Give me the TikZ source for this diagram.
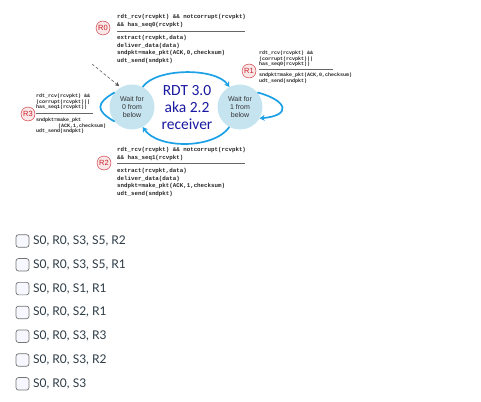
\documentclass[tikz,border=0pt]{standalone}
\usepackage{fontspec}
\usepackage{xcolor}
\usepackage{tikz}
\usetikzlibrary{arrows.meta}
\newfontfamily\codefont{Liberation Mono}
\newfontfamily\statefont{Liberation Sans}
\newfontfamily\bigfont{Carlito}
\newfontfamily\listfont{Lato}
\definecolor{stateblue}{RGB}{198,228,240}
\definecolor{flowblue}{RGB}{28,160,230}
\definecolor{titleblue}{RGB}{24,24,160}
\definecolor{tagred}{RGB}{200,30,40}
\definecolor{listgray}{RGB}{45,59,69}
\tikzset{
  state/.style={circle,fill=stateblue,minimum size=45pt,inner sep=0pt,align=center,
    text=black!80,font=\statefont\fontsize{7}{8}\selectfont},
  flow/.style={draw=flowblue,line width=1.7pt,-{Stealth[length=5pt,width=6pt]}},
  loopline/.style={draw=flowblue,line width=1.7pt},
  bigcode/.style={anchor=north west,inner sep=0pt,align=left,text=black!85,
    font=\codefont\bfseries\fontsize{5.8}{7.6}\selectfont},
  smallcode/.style={anchor=north west,inner sep=0pt,align=left,text=black!85,
    font=\codefont\bfseries\fontsize{5.0}{5.8}\selectfont},
  rule/.style={draw=black!60,line width=0.6pt},
  tag/.style={circle,draw=tagred,fill=tagred!10,text=tagred,inner sep=0pt,
    minimum size=14pt,font=\statefont\fontsize{7.5}{8}\selectfont},
  checkbox/.style={draw=black!55,fill=blue!3,rounded corners=2.5pt,line width=0.7pt,
    minimum width=13pt,minimum height=12.5pt,inner sep=0pt},
  answer/.style={anchor=west,inner sep=0pt,text=listgray,font=\listfont\fontsize{12}{14}\selectfont}
}
\begin{document}
\begin{tikzpicture}[x=1pt,y=-1pt]
\useasboundingbox (0,0) rectangle (481,401);

\node[state] (w0) at (132,107) {Wait for\\0 from\\below};
\node[state] (w1) at (240,107) {Wait for\\1 from\\below};
\node[align=center,text=titleblue,font=\bigfont\fontsize{15.5}{17}\selectfont] (rdt) at (187,108) {RDT 3.0\\aka 2.2\\receiver};

\draw[flow] (w0.62) to[out=55,in=125,looseness=0.7] (w1.118);
\draw[flow] (w1.-118) to[out=-125,in=-55,looseness=0.8] (w0.-62);
\draw[loopline] (w0.140) .. controls +(150:22) and +(210:22) .. (w0.220);
\draw[flow] (w1.40) .. controls +(15:32) and +(-5:32) .. (w1.-30);

\coordinate (init) at (92,64);
\draw[densely dashed,black!70,line width=0.5pt,-{Stealth[length=4pt,width=4pt]},shorten >=2pt] (init) -- (w0.120);

% top transition
\node[tag] (r0) at (103,28) {R0};
\node[bigcode] (g0) at (117,14) {rdt\_rcv(rcvpkt) \&\& notcorrupt(rcvpkt)\\\&\& has\_seq0(rcvpkt)};
\draw[rule] (117,31) -- (245,31);
\node[bigcode] (a0) at (117,35) {extract(rcvpkt,data)\\deliver\_data(data)\\sndpkt=make\_pkt(ACK,0,checksum)\\udt\_send(sndpkt)};

% bottom transition
\node[tag] (r2) at (104,163) {R2};
\node[bigcode] (g2) at (117,147) {rdt\_rcv(rcvpkt) \&\& notcorrupt(rcvpkt)\\\&\& has\_seq1(rcvpkt)};
\draw[rule] (117,163.5) -- (245,163.5);
\node[bigcode] (a2) at (117,168) {extract(rcvpkt,data)\\deliver\_data(data)\\sndpkt=make\_pkt(ACK,1,checksum)\\udt\_send(sndpkt)};

% right loop
\node[tag] (r1) at (249,71) {R1};
\node[smallcode] (g1) at (259,50.5) {rdt\_rcv(rcvpkt) \&\&\\(corrupt(rcvpkt)||\\has\_seq0(rcvpkt))};
\draw[rule] (259,69) -- (333,69);
\node[smallcode] (a1) at (259,72.5) {sndpkt=make\_pkt(ACK,0,checksum)\\udt\_send(sndpkt)};

% left loop
\node[tag] (r3) at (28,114) {R3};
\node[smallcode] (g3) at (36,93.5) {rdt\_rcv(rcvpkt) \&\&\\(corrupt(rcvpkt)||\\has\_seq1(rcvpkt))};
\draw[rule] (36,113) -- (93,113);
\node[smallcode] (a3) at (36,117.5) {sndpkt=make\_pkt\\\hspace*{22pt}(ACK,1,checksum)\\udt\_send(sndpkt)};

% answers
\foreach \t [count=\i] in {{S0, R0, S3, S5, R2},{S0, R0, S3, S5, R1},{S0, R0, S1, R1},{S0, R0, S2, R1},{S0, R0, S3, R3},{S0, R0, S3, R2},{S0, R0, S3}}{
  \node[checkbox] (box\i) at (22.5,{241+23.8*(\i-1)}) {};
  \node[answer] (ans\i) at (33,{241+23.8*(\i-1)}) {\t};
}
\end{tikzpicture}
\end{document}
